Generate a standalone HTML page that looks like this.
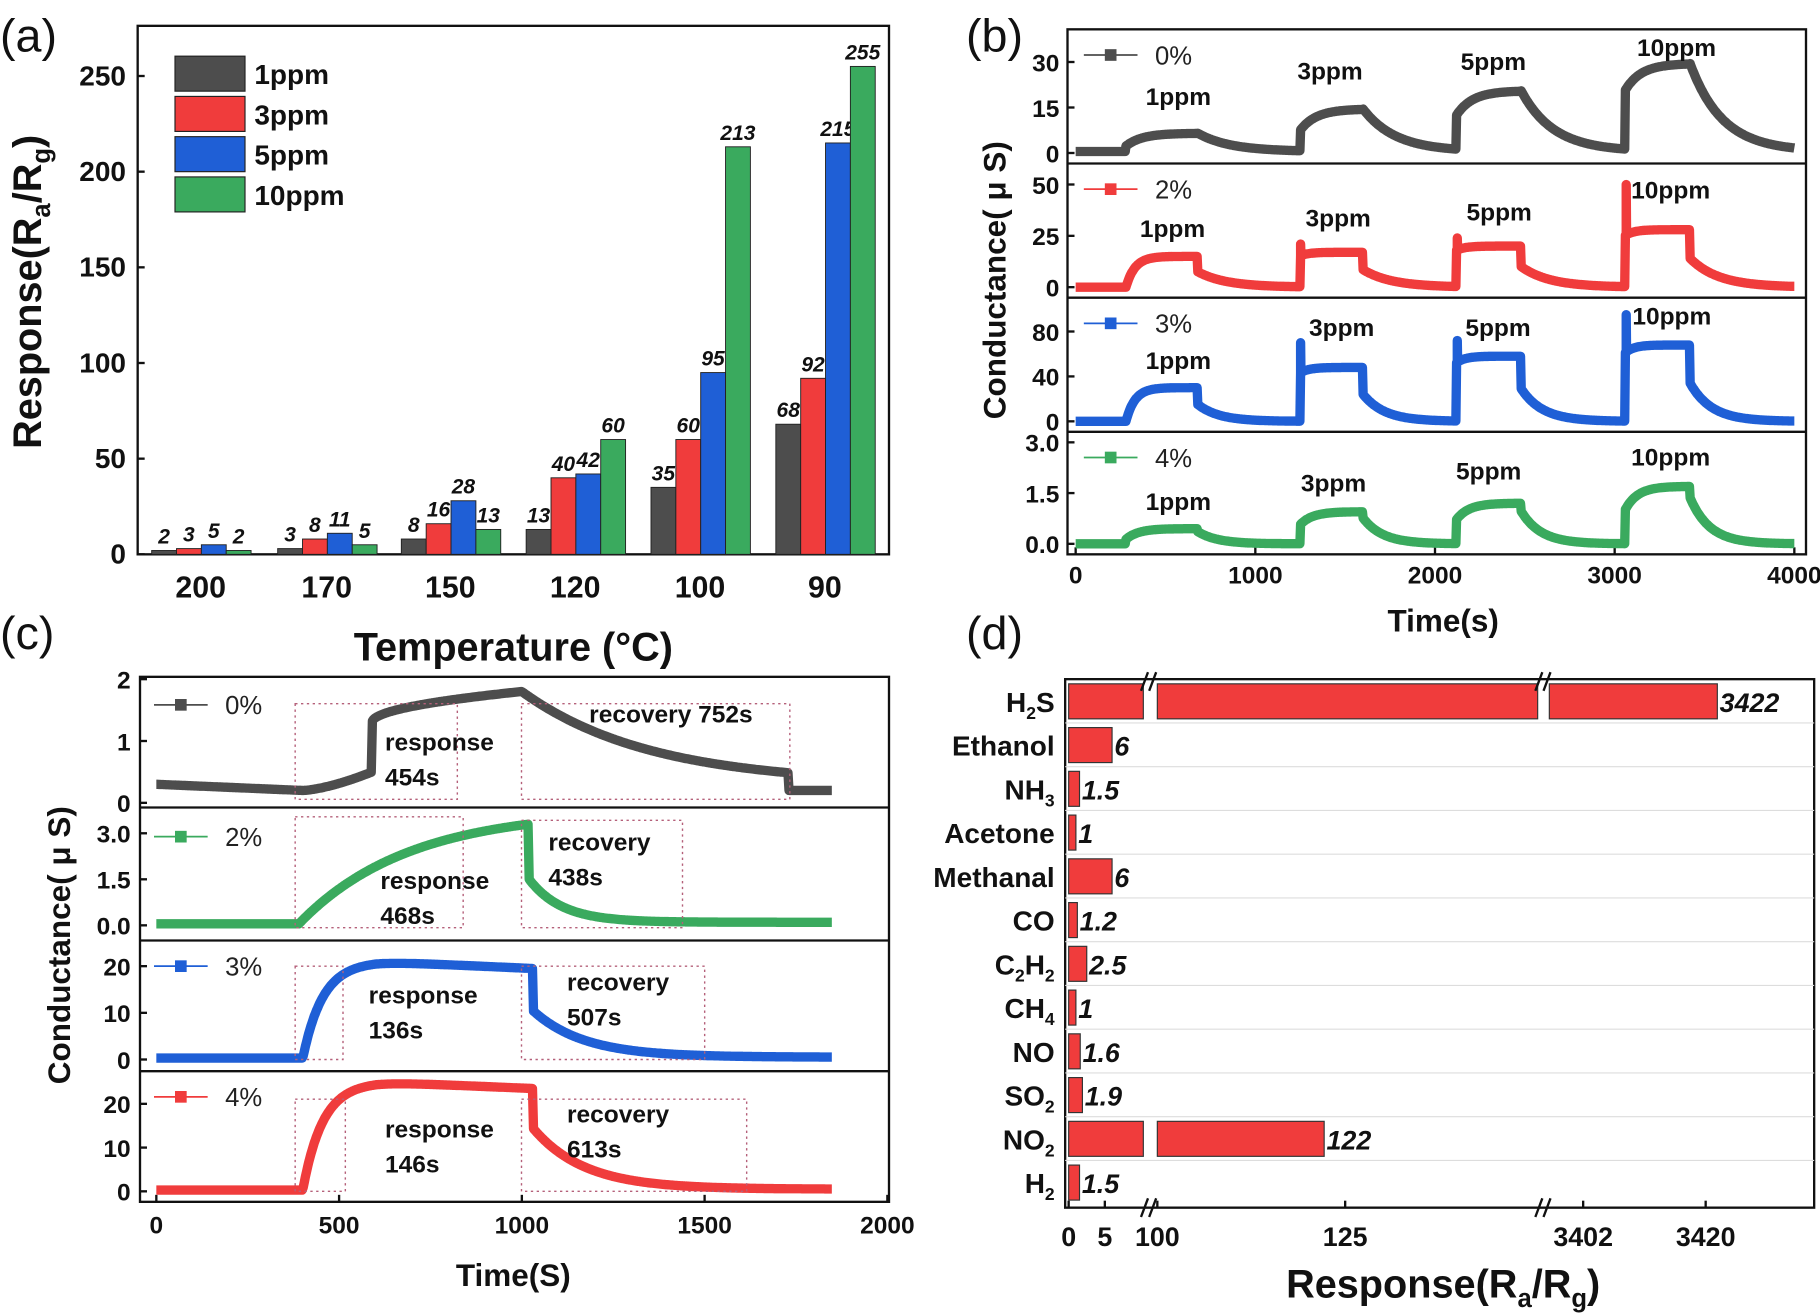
<!DOCTYPE html>
<html><head><meta charset="utf-8"><style>
html,body{margin:0;padding:0;background:#fff;}
svg{display:block;font-family:"Liberation Sans",Arial,sans-serif;}
.t{font-weight:bold;font-size:21px;fill:#111;}
.lg{font-size:22px;fill:#222;}
.ax{font-weight:bold;font-size:34px;fill:#111;}
.pl{font-size:40px;fill:#111;}
.v{font-weight:bold;font-style:italic;font-size:18px;fill:#111;}
.an{font-weight:bold;font-size:21px;fill:#111;}
</style></head><body>
<svg id="s" width="1820" height="1314" viewBox="0 0 1560 1126" xmlns="http://www.w3.org/2000/svg"></svg>
<script>
var S=document.getElementById('s'),h='';
function add(x){h+=x;}
function txt(x,y,s,c,a,extra){add('<text x="'+x+'" y="'+y+'" class="'+c+'" text-anchor="'+(a||'start')+'" '+(extra||'')+'>'+s+'</text>');}
var G='#4d4d4d',R='#f03c3c',B='#1f5fd6',N='#3aaa5e';
// panel letters
txt(0,44,'(a)','pl');txt(828,44,'(b)','pl');txt(0,556,'(c)','pl');txt(828,556,'(d)','pl');
// ---- (a)
add('<rect x="118" y="22" width="644" height="453" fill="none" stroke="#111" stroke-width="2"/>');
function ya(v){return 475-v*1.64;}
[0,50,100,150,200,250].forEach(function(v){txt(108,ya(v)+8,v,'t','end','style="font-size:24px"');add('<line x1="118" x2="124" y1="'+ya(v)+'" y2="'+ya(v)+'" stroke="#111" stroke-width="2"/>');});
var cats=['200','170','150','120','100','90'],cx=[172,280,386,493,600,707];
var data=[[2,3,5,2],[3,8,11,5],[8,16,28,13],[13,40,42,60],[35,60,95,213],[68,92,215,255]];
var cols=[G,R,B,N];
cats.forEach(function(c,i){txt(cx[i],512,c,'t','middle','style="font-size:26px"');
 data[i].forEach(function(v,j){var x=cx[i]-42+j*21.3;add('<rect x="'+x+'" y="'+ya(v)+'" width="21.3" height="'+(v*1.64)+'" fill="'+cols[j]+'" stroke="#222" stroke-width="0.8"/>');
 txt(x+10.6,ya(v)-6,v,'v','middle');});});
['1ppm','3ppm','5ppm','10ppm'].forEach(function(l,j){var y=48+j*34.5;add('<rect x="150" y="'+y+'" width="60" height="30" fill="'+cols[j]+'" stroke="#222" stroke-width="1"/>');txt(218,y+24,l,'t','start','style="font-size:24px"');});
add('<text transform="translate(35,250) rotate(-90)" text-anchor="middle" class="ax">Response(R<tspan font-size="22" dy="8">a</tspan><tspan dy="-8">/R</tspan><tspan font-size="22" dy="8">g</tspan><tspan dy="-8">)</tspan></text>');
txt(440,566,'Temperature (°C)','ax','middle');
// ---- (b)
add('<rect x="915" y="25" width="633" height="450" fill="none" stroke="#111" stroke-width="2"/>');
[140,255,370].forEach(function(y){add('<line x1="915" x2="1548" y1="'+y+'" y2="'+y+'" stroke="#111" stroke-width="2"/>');});
function xb(t){return 922+t*0.154;}
[0,1000,2000,3000,4000].forEach(function(t){txt(xb(t),500,t,'t','middle');add('<line x1="'+xb(t)+'" x2="'+xb(t)+'" y1="475" y2="469" stroke="#111" stroke-width="2"/>');});
var pulses=[[280,680],[1250,1600],[2120,2480],[3060,3420]];
function curveB(p){var pts=[],t,v,last=0;
 for(t=0;t<=4000;t+=4){v=p.base;
  for(var k=0;k<4;k++){var on=pulses[k][0],off=pulses[k][1];
   if(t>=on&&t<off){var L=p.lv[k],j=p.jump[k];v=p.base+L*(j+(1-j)*(1-Math.exp(-(t-on)/p.tau)));}
   else if(t>=off&&(k==3||t<pulses[k+1][0])){var L=p.lv[k];v=p.base+L*(1-p.drop)*Math.exp(-(t-off)/p.taud);}
  }
  pts.push([t,v]);
  for(var k=0;k<4;k++){if(p.sp&&p.sp[k]&&t==Math.floor(pulses[k][0]/4)*4+4)pts.push([t,p.sp[k]]),pts.push([t+2,v]);}
 }return pts;}
var subs=[
 {y0:131,y1:53,vmax:30,ticks:[0,15,30],c:G,lab:'0%',p:{base:0.5,lv:[6,14,20,29],jump:[0.3,0.5,0.6,0.7],tau:90,drop:0,taud:180}},
 {y0:246,y1:158,vmax:50,ticks:[0,25,50],c:R,lab:'2%',p:{base:0,lv:[15,17,20,28],jump:[0,0.9,0.9,0.9],tau:50,drop:0.5,taud:160,sp:[0,21,24,50]}},
 {y0:361,y1:284,vmax:80,ticks:[0,40,80],c:B,lab:'3%',p:{base:0,lv:[30,48,58,68],jump:[0,0.9,0.9,0.9],tau:50,drop:0.5,taud:120,sp:[0,70,72,95]}},
 {y0:466,y1:379,vmax:3,ticks:[0.0,1.5,3.0],c:N,lab:'4%',p:{base:0,lv:[0.45,0.95,1.2,1.7],jump:[0.3,0.6,0.6,0.6],tau:70,drop:0.2,taud:110}}];
var blab=[[[1010,90],[1140,68],[1280,60],[1437,48]],[[1005,203],[1147,194],[1285,189],[1432,170]],[[1010,316],[1150,288],[1284,288],[1433,278]],[[1010,437],[1143,421],[1276,411],[1432,399]]];
subs.forEach(function(s,i){var sc=(s.y0-s.y1)/s.vmax;
 s.ticks.forEach(function(v,k){var y=s.y0-v*sc;txt(908,y+8,(i==3?v.toFixed(1):v),'t','end');add('<line x1="915" x2="921" y1="'+y+'" y2="'+y+'" stroke="#111" stroke-width="2"/>');});
 var pts=curveB(s.p),d='M';pts.forEach(function(q,k){d+=(k?' L':'')+xb(q[0]).toFixed(1)+' '+(s.y0-q[1]*sc).toFixed(1);});
 add('<path d="'+d+'" fill="none" stroke="'+s.c+'" stroke-width="8" stroke-linejoin="round"/>');
 var ly=s.y1-8+(i==0?-1:0); ly=[47,162,277,392][i];
 add('<line x1="929" x2="975" y1="'+ly+'" y2="'+ly+'" stroke="'+s.c+'" stroke-width="1.5"/><rect x="947" y="'+(ly-5)+'" width="10" height="10" fill="'+s.c+'"/>');
 txt(990,ly+8,s.lab,'lg');
 ['1ppm','3ppm','5ppm','10ppm'].forEach(function(l,k){txt(blab[i][k][0],blab[i][k][1],l,'t','middle');});
});
txt(1237,541,'Time(s)','t','middle','style="font-size:27px"');
add('<text transform="translate(862,240) rotate(-90)" text-anchor="middle" class="t" style="font-size:27px">Conductance( μ S)</text>');
// ---- (c)
add('<rect x="120" y="580" width="642" height="450" fill="none" stroke="#111" stroke-width="2"/>');
[692,806,918].forEach(function(y){add('<line x1="120" x2="762" y1="'+y+'" y2="'+y+'" stroke="#111" stroke-width="2"/>');});
function xc(t){return 134+t*0.3133;}
[0,500,1000,1500,2000].forEach(function(t){txt(xc(t),1057,t,'t','middle');add('<line x1="'+xc(t)+'" x2="'+xc(t)+'" y1="1030" y2="1024" stroke="#111" stroke-width="2"/>');});
function fg(t){if(t<400)return 0.3-0.1*t/400;if(t<590)return 0.2+0.3*Math.pow((t-400)/190,1.5);if(t<1000)return 1.3+0.5*Math.sqrt((t-590)/410);if(t<1730)return 0.3+1.5*Math.exp(-(t-1000)/350);return 0.2;}
function fgr(t){if(t<390)return 0.05;if(t<1020)return 0.05+3.25*(1-Math.exp(-(t-390)/300))/(1-Math.exp(-630/300));return 0.1+1.4*Math.exp(-(t-1020)/90);}
function fmk(A,E,D){return function(t){if(t<400)return 0.3;if(t<1030){var v=A*(1-Math.exp(-(t-400)/55));if(t>600)v-=(A-E)*(t-600)/430;return v;}return 0.5+D*Math.exp(-(t-1030)/140);};}
var csub=[{y0:688,s:53,f:fg,c:G,lab:'0%',ticks:[0,1,2],ly:604},{y0:793,s:26.3,f:fgr,c:N,lab:'2%',ticks:['0.0','1.5','3.0'],ly:717},{y0:908,s:4,f:fmk(21,19.5,10),c:B,lab:'3%',ticks:[0,10,20],ly:828},{y0:1021,s:3.75,f:fmk(25,23.5,14),c:R,lab:'4%',ticks:[0,10,20],ly:940}];
csub.forEach(function(s){s.ticks.forEach(function(v){var y=s.y0-parseFloat(v)*s.s;txt(112,y+8,v,'t','end');add('<line x1="120" x2="126" y1="'+y+'" y2="'+y+'" stroke="#111" stroke-width="2"/>');});
 var d='M';for(var t=0;t<=1850;t+=3){d+=(t?' L':'')+xc(t).toFixed(1)+' '+(s.y0-s.f(t)*s.s).toFixed(1);}
 add('<path d="'+d+'" fill="none" stroke="'+s.c+'" stroke-width="8" stroke-linejoin="round"/>');
 add('<line x1="132" x2="178" y1="'+s.ly+'" y2="'+s.ly+'" stroke="'+s.c+'" stroke-width="1.5"/><rect x="150" y="'+(s.ly-5)+'" width="10" height="10" fill="'+s.c+'"/>');
 txt(193,s.ly+8,s.lab,'lg');});
function dbox(x1,y1,x2,y2){add('<rect x="'+x1+'" y="'+y1+'" width="'+(x2-x1)+'" height="'+(y2-y1)+'" fill="none" stroke="#b5607a" stroke-width="1.2" stroke-dasharray="2,3"/>');}
dbox(253,603,392,685);dbox(447,603,677,685);dbox(253,700,397,795);dbox(447,703,585,795);dbox(253,828,294,908);dbox(447,828,604,908);dbox(253,942,296,1021);dbox(447,942,640,1021);
txt(330,643,'response','an');txt(330,673,'454s','an');txt(505,619,'recovery 752s','an');
txt(326,762,'response','an');txt(326,792,'468s','an');txt(470,729,'recovery','an');txt(470,759,'438s','an');
txt(316,860,'response','an');txt(316,890,'136s','an');txt(486,849,'recovery','an');txt(486,879,'507s','an');
txt(330,975,'response','an');txt(330,1005,'146s','an');txt(486,962,'recovery','an');txt(486,992,'613s','an');
txt(440,1102,'Time(S)','t','middle','style="font-size:27px"');
add('<text transform="translate(60,810) rotate(-90)" text-anchor="middle" class="t" style="font-size:27px">Conductance( μ S)</text>');
// ---- (d)
add('<rect x="913" y="582" width="642" height="453" fill="none" stroke="#111" stroke-width="2"/>');
var gs=['H<tspan font-size="15" dy="6">2</tspan><tspan dy="-6">S</tspan>','Ethanol','NH<tspan font-size="15" dy="6">3</tspan>','Acetone','Methanal','CO','C<tspan font-size="15" dy="6">2</tspan><tspan dy="-6">H</tspan><tspan font-size="15" dy="6">2</tspan>','CH<tspan font-size="15" dy="6">4</tspan>','NO','SO<tspan font-size="15" dy="6">2</tspan>','NO<tspan font-size="15" dy="6">2</tspan>','H<tspan font-size="15" dy="6">2</tspan>'];
var vals=['3422','6','1.5','1','6','1.2','2.5','1','1.6','1.9','122','1.5'];
var num=[0,6,1.5,1,6,1.2,2.5,1,1.6,1.9,0,1.5];
for(var i=0;i<12;i++){var yc=601+i*37.5;
 if(i>0)add('<line x1="913" x2="1555" y1="'+(yc-19)+'" y2="'+(yc-19)+'" stroke="#ddd" stroke-width="1"/>');
 add('<text x="904" y="'+(yc+9)+'" text-anchor="end" class="t" style="font-size:24px">'+gs[i]+'</text>');
 var end;
 if(i==0){add('<rect x="916" y="'+(yc-15)+'" width="64" height="30" fill="'+R+'" stroke="#333" stroke-width="1"/><rect x="992" y="'+(yc-15)+'" width="326" height="30" fill="'+R+'" stroke="#333" stroke-width="1"/><rect x="1328" y="'+(yc-15)+'" width="144" height="30" fill="'+R+'" stroke="#333" stroke-width="1"/>');end=1472;}
 else if(i==10){add('<rect x="916" y="'+(yc-15)+'" width="64" height="30" fill="'+R+'" stroke="#333" stroke-width="1"/><rect x="992" y="'+(yc-15)+'" width="143" height="30" fill="'+R+'" stroke="#333" stroke-width="1"/>');end=1135;}
 else{var w=num[i]*6.2;add('<rect x="916" y="'+(yc-15)+'" width="'+w+'" height="30" fill="'+R+'" stroke="#333" stroke-width="1"/>');end=916+w;}
 txt(end+2,yc+9,vals[i],'v','start','style="font-size:23px"');
}
add('<g stroke="#111" stroke-width="2"><line x1="978" y1="592" x2="984" y2="576"/><line x1="985" y1="592" x2="991" y2="576"/><line x1="1316" y1="592" x2="1322" y2="576"/><line x1="1323" y1="592" x2="1329" y2="576"/><line x1="978" y1="1043" x2="984" y2="1027"/><line x1="985" y1="1043" x2="991" y2="1027"/><line x1="1316" y1="1043" x2="1322" y2="1027"/><line x1="1323" y1="1043" x2="1329" y2="1027"/></g>');
[[916,'0'],[947,'5'],[992,'100'],[1153,'125'],[1357,'3402'],[1462,'3420']].forEach(function(q){txt(q[0],1068,q[1],'t','middle','style="font-size:23px"');add('<line x1="'+q[0]+'" x2="'+q[0]+'" y1="1035" y2="1029" stroke="#111" stroke-width="2"/>');});
add('<text x="1237" y="1112" text-anchor="middle" class="ax">Response(R<tspan font-size="22" dy="8">a</tspan><tspan dy="-8">/R</tspan><tspan font-size="22" dy="8">g</tspan><tspan dy="-8">)</tspan></text>');
S.innerHTML=h;
</script>
</body></html>
